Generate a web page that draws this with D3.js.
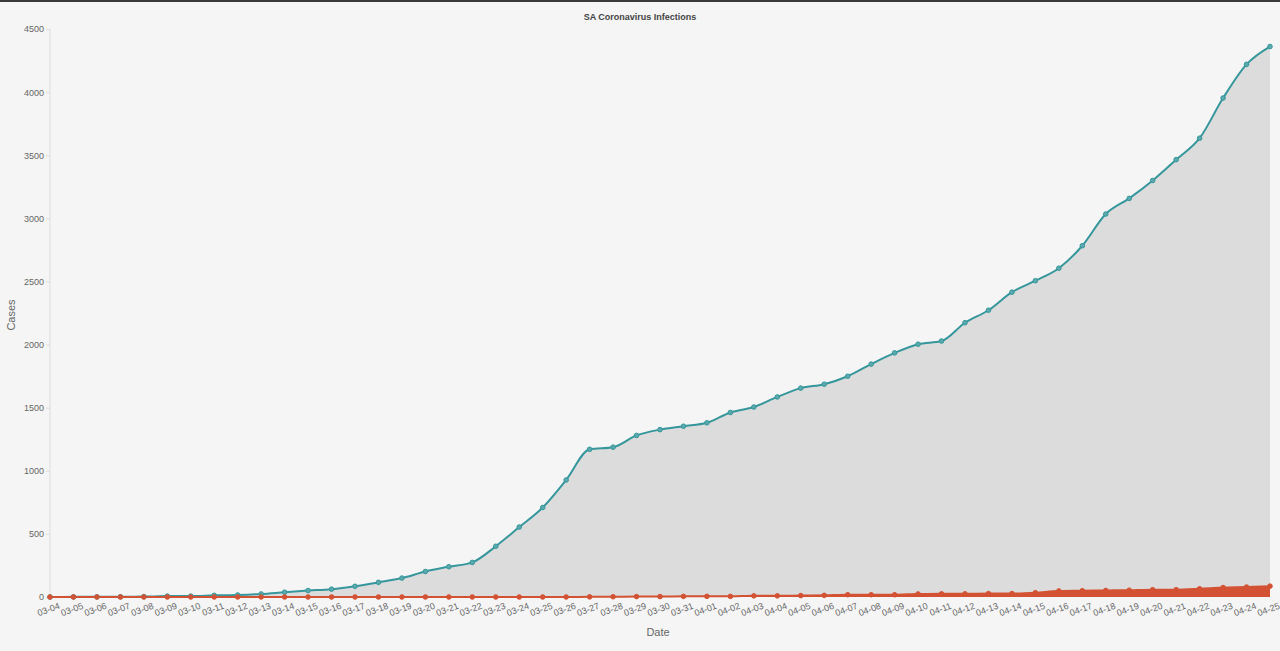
<!doctype html>
<html>
  <head>
    <script src="https://d3js.org/d3.v7.min.js"></script>
    <style>
      html, body { margin: 0; padding: 0; background: #f5f5f5; }
      body { border-top: 2px solid #3a3a3a; }
      svg { display: block; font-family: "Liberation Sans", Arial, sans-serif; }
      .axis text { fill: #666; font-size: 9px; }
      .axis path, .axis line { stroke: #ddd; }
    </style>
  </head>
  <body>
    <script>
        var dates = ["03-04","03-05","03-06","03-07","03-08","03-09","03-10","03-11","03-12","03-13",
            "03-14","03-15","03-16","03-17","03-18","03-19","03-20","03-21","03-22","03-23",
            "03-24","03-25","03-26","03-27","03-28","03-29","03-30","03-31","04-01","04-02",
            "04-03","04-04","04-05","04-06","04-07","04-08","04-09","04-10","04-11","04-12",
            "04-13","04-14","04-15","04-16","04-17","04-18","04-19","04-20","04-21","04-22",
            "04-23","04-24","04-25"];
        var cases = [0,1,1,2,3,7,7,13,16,24,
            38,51,62,85,116,150,202,240,274,402,
            554,709,927,1170,1187,1280,1326,1353,1380,1462,
            1505,1585,1655,1686,1749,1845,1934,2003,2028,2173,
            2272,2415,2506,2605,2783,3034,3158,3300,3465,3635,
            3953,4220,4361];
        var deaths = [0,0,0,0,0,0,0,0,0,0,
            0,0,0,0,0,0,0,0,0,0,
            0,0,0,1,2,3,3,5,5,5,
            9,9,11,13,18,18,18,24,25,25,
            27,27,34,48,50,52,54,58,58,65,
            75,79,86];
        var yTicks = [0,500,1000,1500,2000,2500,3000,3500,4000,4500];

        var W = 1280, H = 649;
        var margin = {top:27, right:10, bottom:54, left:50};
        var width = W - margin.left - margin.right,
            height = H - margin.top - margin.bottom;

        var svg = d3.select("body").append("svg")
            .attr("width", W)
            .attr("height", H);

        var g = svg.append("g")
            .attr("transform", `translate(${margin.left},${margin.top})`);

        var data = dates.map((d, i) => ({date: d, cases: cases[i], deaths: deaths[i]}));

        var x = d3.scalePoint().domain(dates).range([0, width]);
        var y = d3.scaleLinear().domain([0, 4500]).range([height, 0]);

        // areas
        var areaCases = d3.area().curve(d3.curveMonotoneX)
            .x(d => x(d.date)).y0(height).y1(d => y(d.cases));
        var areaDeaths = d3.area().curve(d3.curveMonotoneX)
            .x(d => x(d.date)).y0(height).y1(d => y(d.deaths));
        var lineCases = d3.line().curve(d3.curveMonotoneX)
            .x(d => x(d.date)).y(d => y(d.cases));
        var lineDeaths = d3.line().curve(d3.curveMonotoneX)
            .x(d => x(d.date)).y(d => y(d.deaths));

        g.append("path").datum(data).attr("d", areaCases).attr("fill", "#dcdcdc");
        g.append("path").datum(data).attr("d", areaDeaths).attr("fill", "#d35233");

        // y axis
        g.append("g").attr("class", "axis")
            .call(d3.axisLeft(y).tickValues(yTicks).tickFormat(d3.format("d")).tickSize(4).tickPadding(2))
            .call(a => a.select(".domain").attr("d", `M0,${height}V0`));

        // x axis (labels only)
        var xa = g.append("g").attr("class", "axis")
            .attr("transform", `translate(0,${height})`)
            .call(d3.axisBottom(x).tickSize(0).tickPadding(6));
        xa.select(".domain").remove();
        xa.selectAll("text")
            .style("text-anchor", "end")
            .attr("dx", "0.6em")
            .attr("dy", "0.9em")
            .attr("transform", "rotate(-20)");

        g.append("path").datum(data).attr("d", lineCases)
            .attr("fill", "none").attr("stroke", "#35979c").attr("stroke-width", 2);
        g.append("path").datum(data).attr("d", lineDeaths)
            .attr("fill", "none").attr("stroke", "#d35233").attr("stroke-width", 2);

        g.selectAll(".pc").data(data).enter().append("circle")
            .attr("cx", d => x(d.date)).attr("cy", d => y(d.cases)).attr("r", 2.3)
            .attr("fill", "#5aa9ad").attr("stroke", "#35979c").attr("stroke-width", 1);
        g.selectAll(".pd").data(data).enter().append("circle")
            .attr("cx", d => x(d.date)).attr("cy", d => y(d.deaths)).attr("r", 2.3)
            .attr("fill", "#d35233").attr("stroke", "#d35233").attr("stroke-width", 1);

        // titles
        svg.append("text").attr("x", 640).attr("y", 18)
            .attr("text-anchor", "middle").attr("font-size", 9).attr("fill", "#444")
            .attr("font-weight", "bold").text("SA Coronavirus Infections");
        svg.append("text").attr("x", 658).attr("y", 634)
            .attr("text-anchor", "middle").attr("font-size", 11).attr("fill", "#666")
            .text("Date");
        svg.append("text")
            .attr("transform", "translate(15,313) rotate(-90)")
            .attr("text-anchor", "middle").attr("font-size", 11).attr("fill", "#666")
            .text("Cases");
    </script>
  </body>
</html>
